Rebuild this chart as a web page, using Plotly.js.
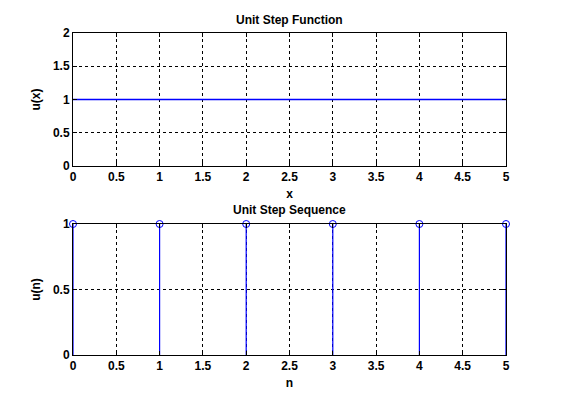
<!DOCTYPE html>
<html>
<head>
<meta charset="utf-8">
<script src="https://cdn.plot.ly/plotly-3.0.1.min.js"></script>
<style>html,body{margin:0;padding:0;background:#fff;}#plot{width:561px;height:404px;}</style>
</head>
<body>
<div id="plot"></div>
<script>
// Continuous unit step u(x)
const xCont = [0, 5];
const uCont = [1, 1];
// Discrete unit step sequence u(n)
const nSeq = [0, 1, 2, 3, 4, 5];
const uSeq = [1, 1, 1, 1, 1, 1];
const xTicks = [0, 0.5, 1, 1.5, 2, 2.5, 3, 3.5, 4, 4.5, 5];
const yTicksTop = [0, 0.5, 1, 1.5, 2];
const yTicksBottom = [0, 0.5, 1];

const stemX = [], stemY = [];
nSeq.forEach((n, i) => { stemX.push(n, n, null); stemY.push(0, uSeq[i], null); });

const blue = '#0000ff';
const font = {family: 'Liberation Sans, Arial, sans-serif', size: 12, color: '#000', weight: 'bold'};

const traces = [
  {x: xCont, y: uCont, type: 'scatter', mode: 'lines', line: {color: blue, width: 1.6}, xaxis: 'x', yaxis: 'y', hoverinfo: 'skip'},
  {x: stemX, y: stemY, type: 'scatter', mode: 'lines', line: {color: blue, width: 1.2}, xaxis: 'x2', yaxis: 'y2', cliponaxis: false, hoverinfo: 'skip'},
  {x: nSeq, y: uSeq, type: 'scatter', mode: 'markers', marker: {symbol: 'circle-open', size: 7, color: blue, line: {width: 1, color: blue}}, xaxis: 'x2', yaxis: 'y2', cliponaxis: false}
];

function ax(extra) {
  return Object.assign({
    showline: true, mirror: 'ticks', linecolor: '#000', linewidth: 1,
    ticks: 'inside', ticklen: 4, tickcolor: '#000',
    showgrid: true, gridcolor: '#000', gridwidth: 1, griddash: '3px,3px',
    zeroline: false, tickfont: font, fixedrange: true
  }, extra);
}

const layout = {
  width: 561, height: 404,
  paper_bgcolor: '#fff', plot_bgcolor: '#fff',
  margin: {l: 0, r: 0, t: 0, b: 0},
  showlegend: false,
  font: font,
  xaxis: ax({domain: [73/561, 506/561], range: [0, 5], tickvals: xTicks, ticktext: xTicks.map(String), anchor: 'y',
    title: {text: 'x', font: font, standoff: 6}}),
  yaxis: ax({domain: [(404-166)/404, (404-33)/404], range: [0, 2], tickvals: yTicksTop, ticktext: yTicksTop.map(String), anchor: 'x',
    title: {text: 'u(x)', font: font, standoff: 9}}),
  xaxis2: ax({domain: [73/561, 506/561], range: [0, 5], tickvals: xTicks, ticktext: xTicks.map(String), anchor: 'y2',
    title: {text: 'n', font: font, standoff: 6}}),
  yaxis2: ax({domain: [(404-355)/404, (404-224)/404], range: [0, 1], tickvals: yTicksBottom, ticktext: yTicksBottom.map(String), anchor: 'x2',
    title: {text: 'u(n)', font: font, standoff: 9}}),
  annotations: [
    {text: 'Unit Step Function', xref: 'paper', yref: 'paper', x: 289.5/561, y: (404-20)/404, showarrow: false, font: font, xanchor: 'center', yanchor: 'middle'},
    {text: 'Unit Step Sequence', xref: 'paper', yref: 'paper', x: 289.5/561, y: (404-210)/404, showarrow: false, font: font, xanchor: 'center', yanchor: 'middle'}
  ]
};

Plotly.newPlot('plot', traces, layout, {displayModeBar: false, staticPlot: true});
</script>
</body>
</html>
